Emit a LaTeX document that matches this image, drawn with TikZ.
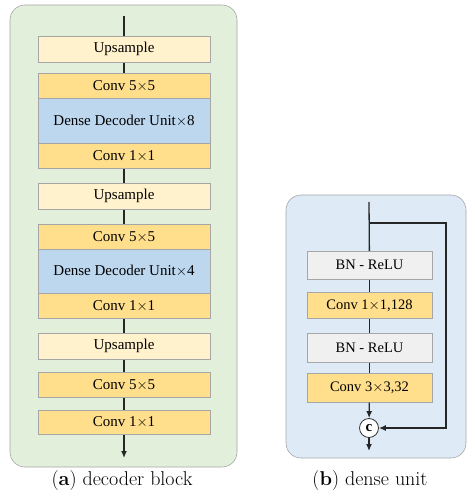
\documentclass[tikz,border=0pt]{standalone}
\usepackage{fontspec}
\usepackage{tikz}
\usetikzlibrary{arrows.meta}
\newfontfamily\boxfont{Liberation Serif}
\definecolor{panelgreen}{HTML}{E2EFDA}
\definecolor{panelblue}{HTML}{DEEBF7}
\definecolor{upfill}{HTML}{FFF2CC}
\definecolor{convfill}{HTML}{FFDE8C}
\definecolor{densefill}{HTML}{BDD7EE}
\definecolor{bnfill}{HTML}{F0F0F0}
\definecolor{edgegray}{HTML}{A6A6A6}
\tikzset{
  panel/.style={draw=edgegray, line width=0.6pt, rounded corners=15pt},
  blk/.style={draw=edgegray, line width=0.6pt, inner sep=0pt, anchor=north,
    font=\boxfont\fontsize{15}{17}\selectfont},
  lblk/.style={blk, minimum width=172pt},
  rblk/.style={blk, minimum width=125pt, font=\boxfont\fontsize{14.5}{16}\selectfont},
  flow/.style={line width=1.3pt, black!85},
  captext/.style={font=\fontsize{20}{23}\selectfont},
}
\begin{document}
\begin{tikzpicture}[x=1pt,y=-1pt]
			\useasboundingbox (0,0) rectangle (474,502);
			% panels
			\draw[panel, fill=panelgreen] (10,5) rectangle (237,467);
			\draw[panel, fill=panelblue] (286,195) rectangle (466,458);
			% (a) decoder block
			\coordinate (ain) at (124,16);
			\node[lblk, fill=upfill, minimum height=26pt] (up1) at (124,36) {Upsample};
			\node[lblk, fill=convfill, minimum height=25pt] (cfa) at (124,73) {Conv 5$\times$5};
			\node[lblk, fill=densefill, minimum height=45pt] (dda) at (124,98) {Dense Decoder Unit$\times$8};
			\node[lblk, fill=convfill, minimum height=25pt] (coa) at (124,143) {Conv 1$\times$1};
			\node[lblk, fill=upfill, minimum height=26pt] (up2) at (124,183) {Upsample};
			\node[lblk, fill=convfill, minimum height=25pt] (cfb) at (124,224) {Conv 5$\times$5};
			\node[lblk, fill=densefill, minimum height=44pt] (ddb) at (124,249) {Dense Decoder Unit$\times$4};
			\node[lblk, fill=convfill, minimum height=25pt] (cob) at (124,293) {Conv 1$\times$1};
			\node[lblk, fill=upfill, minimum height=26pt] (up3) at (124,333) {Upsample};
			\node[lblk, fill=convfill, minimum height=25pt] (cfc) at (124,372) {Conv 5$\times$5};
			\node[lblk, fill=convfill, minimum height=24pt] (coc) at (124,410) {Conv 1$\times$1};
			\coordinate (aout) at (124,458);
			\draw[flow] (ain) -- (up1);
			\draw[flow] (up1) -- (cfa);
			\draw[flow] (coa) -- (up2);
			\draw[flow] (up2) -- (cfb);
			\draw[flow] (cob) -- (up3);
			\draw[flow] (up3) -- (cfc);
			\draw[flow] (cfc) -- (coc);
			\draw[flow, -{Latex[length=7pt,width=6pt]}] (coc) -- (aout);
			\node[captext] (capa) at (122,481) {(\textbf{a}) decoder block};
			% (b) dense unit
			\coordinate (bin) at (369,202);
			\coordinate (br) at (369,223);
			\node[rblk, fill=bnfill, minimum height=28pt] (bna) at (369.5,251) {BN - ReLU};
			\node[rblk, fill=convfill, minimum height=26pt] (cva) at (369.5,292) {Conv 1$\times$1,128};
			\node[rblk, fill=bnfill, minimum height=29pt] (bnb) at (369.5,333) {BN - ReLU};
			\node[rblk, fill=convfill, minimum height=29pt] (cvb) at (369.5,373) {Conv 3$\times$3,32};
			\node[circle, draw=black!80, fill=white, line width=0.8pt, minimum size=19pt, inner sep=0pt,
			  font=\boxfont\bfseries\fontsize{15}{15}\selectfont] (cat) at (369,428) {c};
			\coordinate (bout) at (369,451);
			\coordinate (fbr) at (446,223);
			\coordinate (fbl) at (446,428);
			\draw[flow] (bin) -- (bna);
			\draw[flow] (bna) -- (cva);
			\draw[flow] (cva) -- (bnb);
			\draw[flow] (bnb) -- (cvb);
			\draw[flow, -{Latex[length=7pt,width=6pt]}] (cvb) -- (cat);
			\draw[flow, -{Latex[length=7pt,width=6pt]}] (cat) -- (bout);
			\draw[flow, -{Latex[length=7pt,width=6pt]}] (br) -- (fbr) -- (fbl) -- (cat);
			\node[captext] (capb) at (370,481) {(\textbf{b}) dense unit};
		\end{tikzpicture}
\end{document}
